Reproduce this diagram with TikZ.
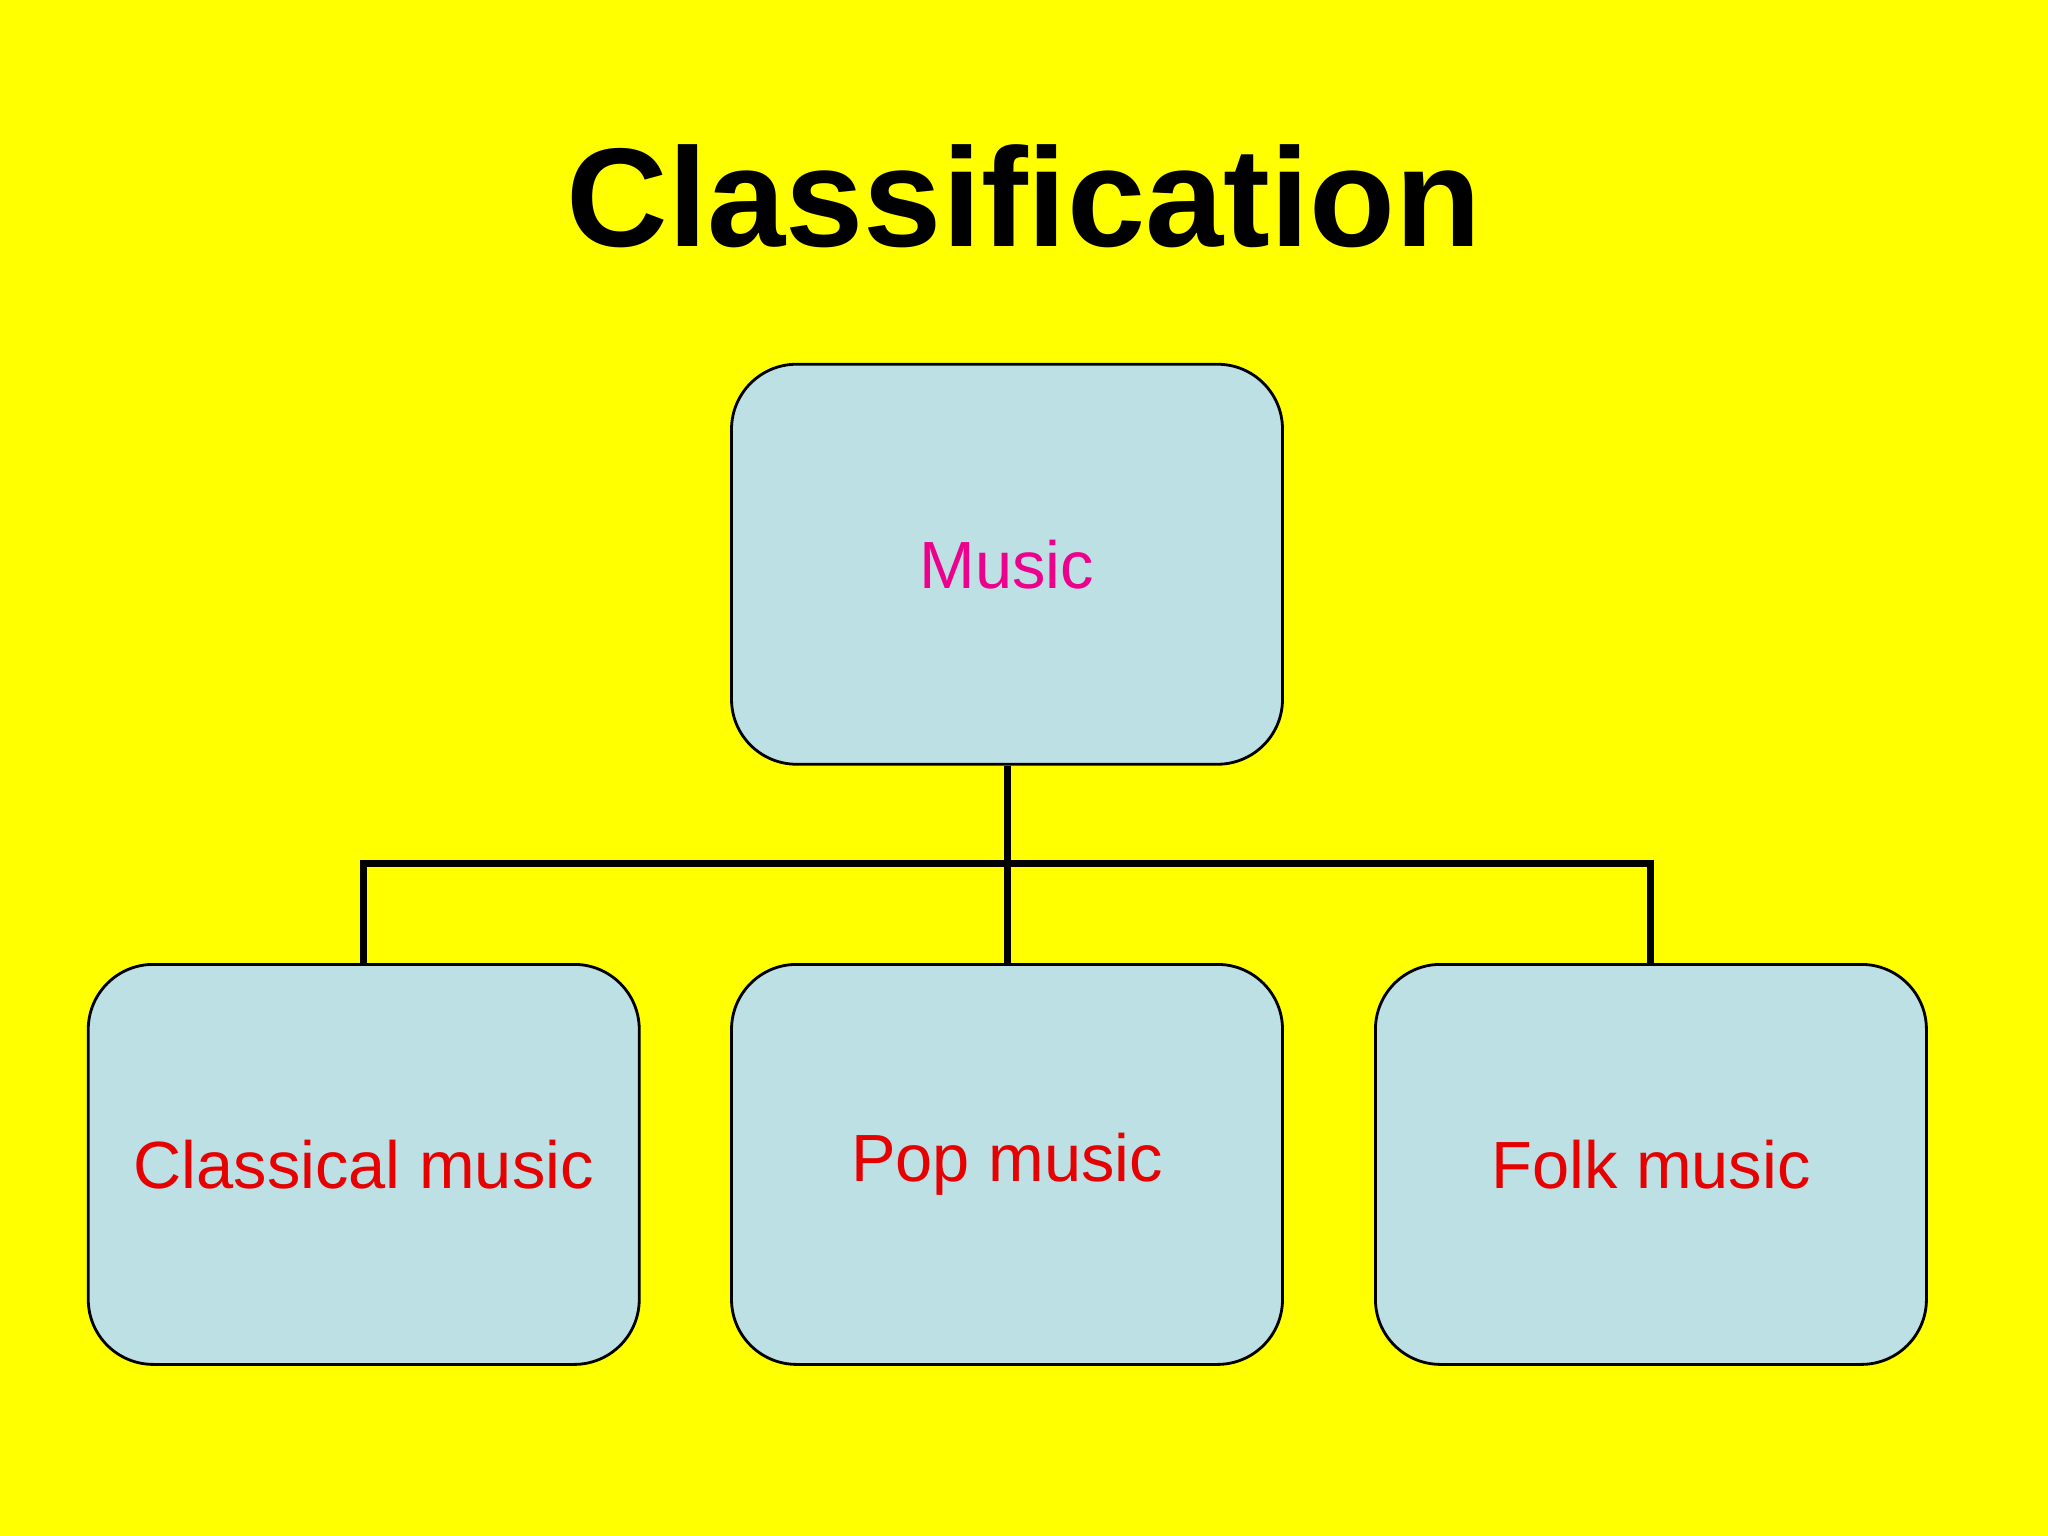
\documentclass[tikz,border=0pt]{standalone}
\usepackage{fontspec}
\setmainfont{Liberation Sans}
\definecolor{bg}{RGB}{255,255,0}
\definecolor{boxfill}{RGB}{189,224,229}
\definecolor{lbl}{RGB}{230,0,0}
\begin{document}
\begin{tikzpicture}[x=0.013061cm,y=-0.013061cm,
  box/.style={draw=black,line width=0.8pt,fill=boxfill,rounded corners=0.65cm,
    minimum width=5.51cm,minimum height=4.0cm,inner sep=0pt,
    font=\fontsize{19}{22}\selectfont,text=lbl},
  conn/.style={line width=2pt}]
\fill[bg] (0,0) rectangle (1568,1176);
\useasboundingbox (0,0) rectangle (1568,1176);
\node[font=\bfseries\fontsize{40}{46}\selectfont] (title) at (784,150) {Classification};
\node[box,text=magenta] (music) at (771,432) {Music};
\node[box] (classical) at (278.5,891.5) {Classical music};
\node[box] (pop) at (771,891.5) {Pop music};
\node[box] (folk) at (1264,891.5) {Folk music};
\coordinate (mid) at (771,661);
\draw[conn] (music.south) -- (pop.north);
\draw[conn] (classical.north) |- (mid) -| (folk.north);
\end{tikzpicture}
\end{document}
